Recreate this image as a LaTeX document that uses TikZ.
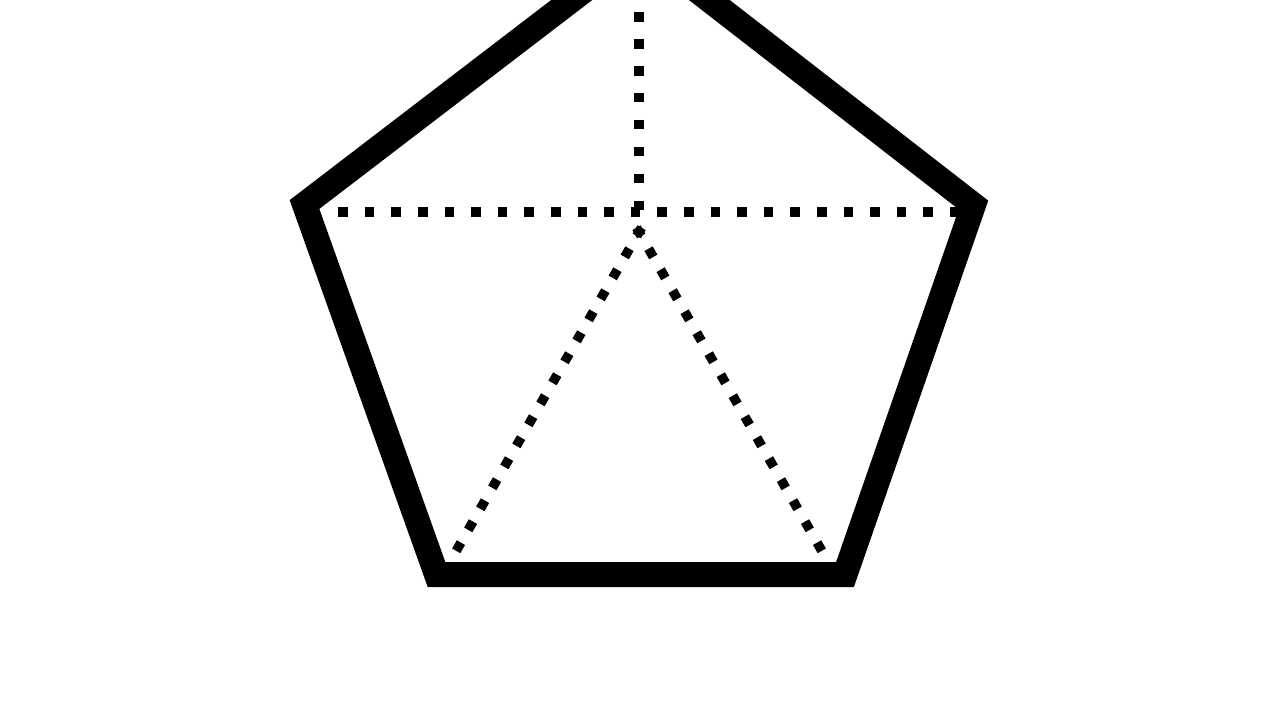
\documentclass[tikz,border=0pt]{standalone}
\begin{document}
\begin{tikzpicture}[x=1pt,y=-1pt,
  dotline/.style={line width=9.5pt, line cap=butt, dash pattern=on 9.5pt off #1},
  edge/.style={line width=25pt, line join=miter}]
\useasboundingbox[fill=white] (0,0) rectangle (1280,720);
\coordinate (T) at (641,-53);
\coordinate (L) at (304.5,204.5);
\coordinate (R) at (973.5,205);
\coordinate (BL) at (436.5,574.5);
\coordinate (BR) at (845,574.5);
% dotted guides
\coordinate (hS) at (338.25,212);
\coordinate (hE) at (960,212);
\coordinate (vS) at (639,-14.65);
\coordinate (vE) at (639,210);
\coordinate (dC1) at (641.5,227.7);
\coordinate (dL) at (452.5,557.3);
\coordinate (dC2) at (636.5,227.7);
\coordinate (dR) at (825.5,557.3);
\draw[dotline=17.1pt] (hS) -- (hE);
\draw[dotline=17.4pt] (vS) -- (vE);
\draw[dotline=14.7pt] (dC1) -- (dL);
\draw[dotline=14.7pt] (dC2) -- (dR);
% pentagon
\draw[edge] (T) -- (R) -- (BR) -- (BL) -- (L) -- cycle;
\end{tikzpicture}
\end{document}
